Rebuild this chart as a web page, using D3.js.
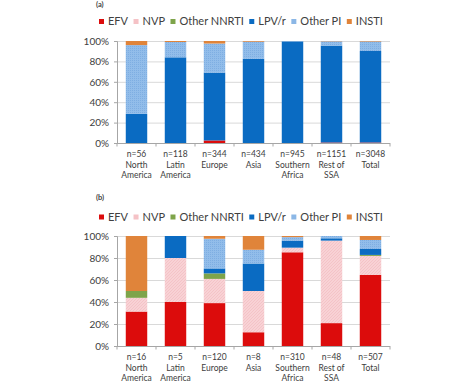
<!DOCTYPE html>
<html>
<head>
<meta charset="utf-8">
<script src="https://cdn.jsdelivr.net/npm/d3@7"></script>
<style>
  body { margin: 0; background: #fff; }
  svg text { font-family: Lato, "Open Sans", sans-serif; fill: #404040; }
</style>
</head>
<body>
<svg id="chart" width="474" height="388"></svg>
<script>
// categories and series (percent of patients)
var seriesNames = ["EFV", "NVP", "Other NNRTI", "LPV/r", "Other PI", "INSTI"];
var regions = [["North", "America"], ["Latin", "America"], ["Europe"], ["Asia"], ["Southern", "Africa"], ["Rest of", "SSA"], ["Total"]];
var yTicks = [0, 20, 40, 60, 80, 100];

// panel (a)
var nA = [56, 118, 344, 434, 945, 1151, 3048];
var efvA   = [0,    0,  2.5, 0,    0,    0.5, 0.5];
var nvpA   = [0,    0,  0,   0,    0,    0,   0];
var nnrtiA = [0,    0,  0,   0,    0,    0,   0];
var lpvA   = [28.5, 84, 66.5, 82.5, 99.6, 95,  89.7];
var piA    = [67.5, 15, 28.5, 16.8, 0.4,  4.2, 9.3];
var instiA = [4,    1,  2.5, 0.7,  0,    0.3, 0.5];

// panel (b)
var nB = [16, 5, 120, 8, 310, 48, 507];
var efvB   = [31.3, 40, 39,  12.5, 85.2, 20.8, 64.7];
var nvpB   = [12.5, 40, 22,  37.5, 4.2,  75,   17.2];
var nnrtiB = [6.2,  0,  5,   0,    0,    0,    0.9];
var lpvB   = [0,    20, 4.5, 25,   6.4,  2.1,  5.4];
var piB    = [0,    0,  27,  12.5, 3.2,  2.1,  8.2];
var instiB = [50,   0,  2.5, 12.5, 1.0,  0,    3.6];

var colors = ["#dc0c0c", "url(#hatchNVP)", "#7ea44a", "#0a6bc2", "url(#dotPI)", "#e0843a"];
var legendColors = ["#dc0c0c", "#f5c2c6", "#7ea44a", "#0a6bc2", "#8bb7e6", "#e0843a"];

var svg = d3.select("#chart");
var defs = svg.append("defs");

var hatch = defs.append("pattern").attr("id", "hatchNVP")
    .attr("patternUnits", "userSpaceOnUse").attr("width", 3).attr("height", 3);
hatch.append("rect").attr("width", 3).attr("height", 3).attr("fill", "#f8d2d5");
hatch.append("path").attr("d", "M0,3 L3,0").attr("stroke", "#f1b9be").attr("stroke-width", 0.6);

var dots = defs.append("pattern").attr("id", "dotPI")
    .attr("patternUnits", "userSpaceOnUse").attr("width", 2).attr("height", 2);
dots.append("rect").attr("width", 2).attr("height", 2).attr("fill", "#92bdea");
dots.append("rect").attr("width", 1).attr("height", 1).attr("fill", "#7eaee2");

function drawPanel(opt) {
    var rows = regions.map(function(r, i) {
        var o = { key: i };
        opt.series.forEach(function(s, k) { o[seriesNames[k]] = s[i]; });
        return o;
    });

    var x = d3.scaleBand().domain(d3.range(regions.length))
        .range([117, 390]).paddingInner(0.45).paddingOuter(0.225);
    var y = d3.scaleLinear().domain([0, 100]).range([opt.bottom, opt.top]);

    var g = svg.append("g");

    g.append("text").attr("x", 96).attr("y", opt.labelY)
        .attr("font-size", 7.5).attr("font-weight", "bold").attr("dy", "0.35em")
        .text(opt.label);

    // legend
    var lx = 99;
    seriesNames.forEach(function(name, k) {
        g.append("rect").attr("x", lx).attr("y", opt.legendY - 2.5)
            .attr("width", 5).attr("height", 5).attr("fill", legendColors[k]);
        var t = g.append("text").attr("x", lx + 9).attr("y", opt.legendY)
            .attr("dy", "0.35em").attr("font-size", 11).text(name);
        lx += 9 + t.node().getComputedTextLength() + 5.5;
    });

    // grid
    g.selectAll(".grid").data(yTicks.slice(1)).enter().append("line")
        .attr("x1", 117).attr("x2", 390)
        .attr("y1", function(d) { return y(d) + 0.5; })
        .attr("y2", function(d) { return y(d) + 0.5; })
        .attr("stroke", "#d9d9d9").attr("stroke-width", 1);

    // y axis
    var yAxis = d3.axisLeft(y).tickValues(yTicks).tickSize(3)
        .tickFormat(function(d) { return d + "%"; });
    var ya = g.append("g").attr("transform", "translate(117,0)").call(yAxis);
    ya.select(".domain").attr("stroke", "#a6a6a6");
    ya.selectAll(".tick line").attr("stroke", "#a6a6a6");
    ya.selectAll(".tick text").attr("font-size", 10).attr("fill", "#404040")
        .attr("font-family", "Lato, sans-serif").attr("x", -8);

    // stacked bars
    var stack = d3.stack().keys(seriesNames)(rows);
    g.selectAll(".layer").data(stack).enter().append("g")
        .attr("fill", function(d, k) { return colors[k]; })
      .selectAll("rect").data(function(d) { return d; }).enter().append("rect")
        .attr("x", function(d, i) { return x(i); })
        .attr("width", x.bandwidth())
        .attr("y", function(d) { return y(d[1]); })
        .attr("height", function(d) { return Math.max(0, y(d[0]) - y(d[1])); });

    // x axis
    g.append("line").attr("x1", 117).attr("x2", 390)
        .attr("y1", opt.bottom + 0.5).attr("y2", opt.bottom + 0.5)
        .attr("stroke", "#a6a6a6");
    var step = x.step();
    d3.range(regions.length + 1).forEach(function(i) {
        var tx = 117 + i * step;
        g.append("line").attr("x1", tx).attr("x2", tx)
            .attr("y1", opt.bottom).attr("y2", opt.bottom + 3.5)
            .attr("stroke", "#a6a6a6");
    });

    regions.forEach(function(r, i) {
        var cx = x(i) + x.bandwidth() / 2;
        var lines = ["n=" + opt.n[i]].concat(r);
        lines.forEach(function(l, j) {
            g.append("text").attr("x", cx).attr("y", opt.bottom + 11.5 + j * 10.3)
                .attr("dy", "0.35em").attr("text-anchor", "middle")
                .attr("font-size", 8.5).text(l);
        });
    });
}

drawPanel({ label: "(a)", labelY: 4, legendY: 21.5, top: 41, bottom: 143, n: nA,
    series: [efvA, nvpA, nnrtiA, lpvA, piA, instiA] });
drawPanel({ label: "(b)", labelY: 197, legendY: 217, top: 236, bottom: 346, n: nB,
    series: [efvB, nvpB, nnrtiB, lpvB, piB, instiB] });
</script>
</body>
</html>
